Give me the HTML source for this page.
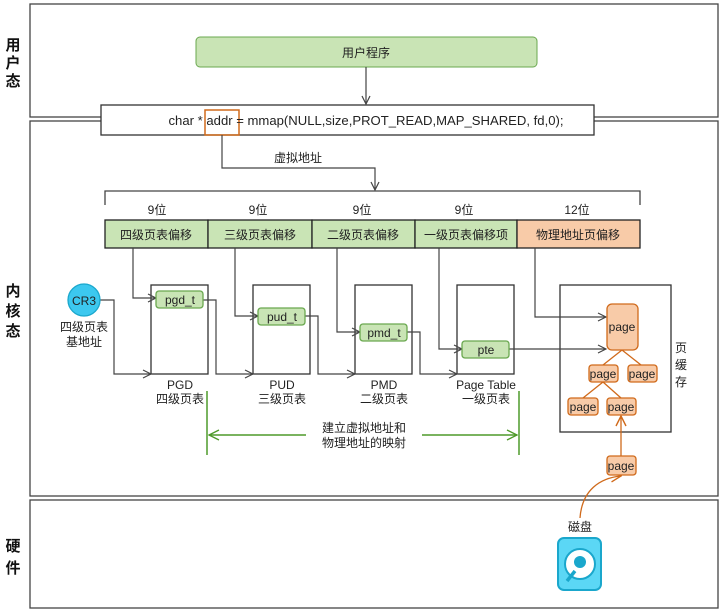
<!DOCTYPE html>
<html><head><meta charset="utf-8"><style>
html,body{margin:0;padding:0;background:#fff;}
svg{display:block;font-family:"Liberation Sans","Noto Sans CJK SC",sans-serif;}
</style></head><body>
<svg width="720" height="613" viewBox="0 0 720 613" xmlns="http://www.w3.org/2000/svg">
<defs>
<marker id="a" markerWidth="10" markerHeight="10" refX="9" refY="5" orient="auto" markerUnits="userSpaceOnUse"><path d="M1,1 L9,5 L1,9" fill="none" stroke="#444" stroke-width="1.2"/></marker>
<marker id="g" markerWidth="12" markerHeight="12" refX="11" refY="6" orient="auto-start-reverse" markerUnits="userSpaceOnUse"><path d="M1,1 L11,6 L1,11" fill="none" stroke="#4e9a2a" stroke-width="1.4"/></marker>
<marker id="o" markerWidth="12" markerHeight="12" refX="11" refY="6" orient="auto" markerUnits="userSpaceOnUse"><path d="M1,1 L11,6 L1,11" fill="none" stroke="#d06a1b" stroke-width="1.4"/></marker>
</defs>
<g fill="none" stroke="#444" stroke-width="1.3">
<rect x="30" y="4" width="688" height="113"/>
<rect x="30" y="121" width="688" height="375"/>
<rect x="30" y="500" width="688" height="108"/>
</g>
<g font-weight="bold" font-size="15" fill="#111" text-anchor="middle">
<text x="13" y="50">用</text><text x="13" y="68">户</text><text x="13" y="86">态</text>
<text x="13" y="296">内</text><text x="13" y="316">核</text><text x="13" y="336">态</text>
<text x="13" y="551">硬</text><text x="13" y="573">件</text>
</g>
<rect x="196" y="37" width="341" height="30" rx="4" fill="#c9e4b5" stroke="#6aa84f"/>
<text x="366" y="57" font-size="12" text-anchor="middle" fill="#222">用户程序</text>
<line x1="366" y1="67" x2="366" y2="104" stroke="#444" stroke-width="1.2" marker-end="url(#a)"/>
<rect x="101" y="105" width="493" height="30" fill="#fff" stroke="#333" stroke-width="1.3"/>
<rect x="205" y="110" width="34" height="25" fill="none" stroke="#d06a1b" stroke-width="1.5"/>
<text x="366" y="125" font-size="13" text-anchor="middle" fill="#222" textLength="395" lengthAdjust="spacingAndGlyphs">char * addr = mmap(NULL,size,PROT_READ,MAP_SHARED, fd,0);</text>
<polyline points="222,135 222,168 375,168 375,190" fill="none" stroke="#444" stroke-width="1.2" marker-end="url(#a)"/>
<text x="298" y="162" font-size="12" text-anchor="middle" fill="#222">虚拟地址</text>
<polyline points="105,205 105,191 640,191 640,205" fill="none" stroke="#444" stroke-width="1.3"/>
<g font-size="12" text-anchor="middle" fill="#222">
<text x="157" y="214">9位</text><text x="258" y="214">9位</text><text x="362" y="214">9位</text><text x="464" y="214">9位</text><text x="577" y="214">12位</text>
</g>
<g stroke="#222" stroke-width="1.3">
<rect x="105" y="220" width="103" height="28" fill="#c9e4b5"/>
<rect x="208" y="220" width="104" height="28" fill="#c9e4b5"/>
<rect x="312" y="220" width="103" height="28" fill="#c9e4b5"/>
<rect x="415" y="220" width="102" height="28" fill="#c9e4b5"/>
<rect x="517" y="220" width="123" height="28" fill="#f8cba8"/>
</g>
<g font-size="12" text-anchor="middle" fill="#222">
<text x="156" y="239">四级页表偏移</text><text x="260" y="239">三级页表偏移</text><text x="363" y="239">二级页表偏移</text><text x="466" y="239">一级页表偏移项</text><text x="578" y="239">物理地址页偏移</text>
</g>
<g fill="#fff" stroke="#333" stroke-width="1.3">
<rect x="151" y="285" width="57" height="89"/>
<rect x="253" y="285" width="57" height="89"/>
<rect x="355" y="285" width="57" height="89"/>
<rect x="457" y="285" width="57" height="89"/>
<rect x="560" y="285" width="111" height="147"/>
</g>
<g fill="none" stroke="#444" stroke-width="1.2" marker-end="url(#a)">
<polyline points="133,248 133,298 156,298"/>
<polyline points="235,248 235,316 258,316"/>
<polyline points="337,248 337,332 360,332"/>
<polyline points="439,248 439,349 462,349"/>
<polyline points="535,248 535,317 606,317"/>
<polyline points="100,300 114,300 114,374 151,374"/>
<polyline points="203,300 216,300 216,374 253,374"/>
<polyline points="305,316 318,316 318,374 355,374"/>
<polyline points="407,332 420,332 420,374 457,374"/>
<polyline points="509,349 606,349"/>
</g>
<g fill="#c9e4b5" stroke="#6aa84f" stroke-width="1.3">
<rect x="156" y="291" width="47" height="17" rx="3"/>
<rect x="258" y="308" width="47" height="17" rx="3"/>
<rect x="360" y="324" width="47" height="17" rx="3"/>
<rect x="462" y="341" width="47" height="17" rx="3"/>
</g>
<g font-size="12" text-anchor="middle" fill="#222">
<text x="180" y="304">pgd_t</text><text x="282" y="321">pud_t</text><text x="384" y="337">pmd_t</text><text x="486" y="354">pte</text>
<text x="180" y="389">PGD</text><text x="180" y="403">四级页表</text>
<text x="282" y="389">PUD</text><text x="282" y="403">三级页表</text>
<text x="384" y="389">PMD</text><text x="384" y="403">二级页表</text>
<text x="486" y="389">Page Table</text><text x="486" y="403">一级页表</text>
<text x="84" y="331">四级页表</text><text x="84" y="346">基地址</text>
<text x="364" y="432">建立虚拟地址和</text><text x="364" y="447">物理地址的映射</text>
<text x="681" y="352">页</text><text x="681" y="369">缓</text><text x="681" y="386">存</text>
<text x="580" y="531">磁盘</text>
</g>
<circle cx="84" cy="300" r="16" fill="#3cc8ef" stroke="#1aa7cc" stroke-width="1.3"/>
<text x="84" y="305" font-size="12" text-anchor="middle" fill="#222">CR3</text>
<g stroke="#4e9a2a" stroke-width="1.5" fill="none">
<line x1="207" y1="391" x2="207" y2="455"/><line x1="519" y1="391" x2="519" y2="455"/>
<line x1="209" y1="435" x2="306" y2="435" marker-start="url(#g)"/>
<line x1="422" y1="435" x2="517" y2="435" marker-end="url(#g)"/>
</g>
<g stroke="#d06a1b" stroke-width="1.3" fill="none">
<line x1="622" y1="350" x2="603" y2="365"/><line x1="622" y1="350" x2="641" y2="365"/>
<line x1="603" y1="382" x2="583" y2="398"/><line x1="603" y1="382" x2="621" y2="398"/>
<line x1="621" y1="456" x2="621" y2="416" marker-end="url(#o)"/>
<path d="M580,518 C582,490 600,478 621,476" marker-end="url(#o)"/>
</g>
<g fill="#f8cba8" stroke="#d06a1b" stroke-width="1.3">
<rect x="607" y="304" width="31" height="46" rx="5"/>
<rect x="589" y="365" width="29" height="17" rx="3"/>
<rect x="628" y="365" width="29" height="17" rx="3"/>
<rect x="568" y="398" width="30" height="17" rx="3"/>
<rect x="607" y="398" width="29" height="17" rx="3"/>
<rect x="607" y="456" width="29" height="19" rx="3"/>
</g>
<g font-size="12" text-anchor="middle" fill="#222">
<text x="622" y="331">page</text><text x="603" y="378">page</text><text x="642" y="378">page</text>
<text x="583" y="411">page</text><text x="621" y="411">page</text><text x="621" y="470">page</text>
</g>
<rect x="558" y="538" width="43" height="52" rx="6" fill="#5bd7f5" stroke="#1aa7cc" stroke-width="2"/>
<circle cx="580" cy="564" r="15" fill="#fff" stroke="#1aa7cc" stroke-width="2"/>
<circle cx="580" cy="562" r="6" fill="#1aa7cc"/>
<line x1="575" y1="571" x2="567" y2="581" stroke="#1aa7cc" stroke-width="3.5"/>
</svg>
</body></html>
